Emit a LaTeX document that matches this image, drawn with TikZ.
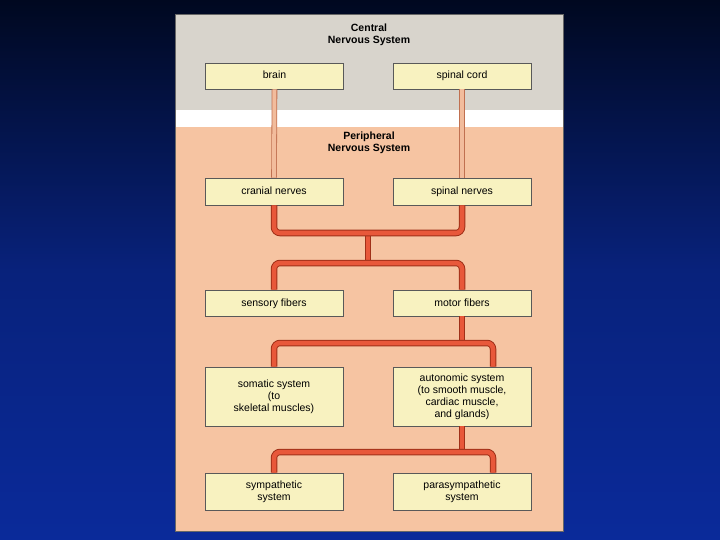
\documentclass[tikz,border=0pt]{standalone}
\usepackage{fontspec}
\setmainfont{Liberation Sans}
\begin{document}
\begin{tikzpicture}[x=1pt,y=-1pt,
  box/.style={draw=black!65,line width=0.8pt,fill=boxc,minimum width=138pt,align=center,inner sep=1pt,font=\fontsize{10.5}{12}\selectfont},
  nerve/.style={draw=nout,double=nin,double distance=4.5pt,line width=1pt,rounded corners=6pt},
  cns/.style={draw=cout,double=cin,double distance=4pt,line width=0.8pt},
  ttl/.style={font=\bfseries\fontsize{10.5}{11.5}\selectfont,align=center}]
\definecolor{boxc}{HTML}{F8F2C0}
\definecolor{nout}{HTML}{A03018}
\definecolor{nin}{HTML}{E8583A}
\definecolor{cout}{HTML}{C07050}
\definecolor{cin}{HTML}{F2BC9C}
\definecolor{bgtop}{HTML}{000820}
\definecolor{bgbot}{HTML}{0A2A9A}
\useasboundingbox (0,0) rectangle (720,540);
\shade[top color=bgtop,bottom color=bgbot,middle color=bgbot!80!black] (0,0) rectangle (720,540);
% panel
\fill[white] (175,15) rectangle (563,531);
\fill[fill={rgb,255:red,216;green,212;blue,204}] (175,15) rectangle (563,110);
\fill[fill={rgb,255:red,246;green,196;blue,162}] (175,127) rectangle (563,531);
\draw[black!60,line width=1pt] (175,15) rectangle (563,531);
\node[ttl] (cnsl) at (369,35) {Central\\Nervous System};
\node[ttl] (pnsl) at (369,143) {Peripheral\\Nervous System};
% boxes
\node[box,minimum height=26pt,text height=8pt,text depth=2pt] (brain) at (274.5,76) {brain};
\node[box,minimum height=26pt,text height=8pt,text depth=2pt] (cord) at (462,76) {spinal cord};
\node[box,minimum height=27pt,text height=8pt,text depth=2pt] (cran) at (274,191.5) {cranial nerves};
\node[box,minimum height=27pt,text height=8pt,text depth=2pt] (spn) at (462,191.5) {spinal nerves};
\node[box,minimum height=26pt,text height=8pt,text depth=2pt] (sens) at (274,303) {sensory fibers};
\node[box,minimum height=26pt,text height=8pt,text depth=2pt] (mot) at (462,303) {motor fibers};
\node[box,minimum height=59pt] (som) at (274,396.5) {somatic system\\(to\\skeletal muscles)};
\node[box,minimum height=59pt] (aut) at (462,396.5) {autonomic system\\(to smooth muscle,\\cardiac muscle,\\and glands)};
\node[box,minimum height=37pt] (sym) at (274,491.5) {sympathetic\\system};
\node[box,minimum height=37pt] (par) at (462,491.5) {parasympathetic\\system};
% connectors
\draw[cns] (brain.south) -- (cran.north);
\draw[cns] (cord.south) -- (spn.north);
\coordinate (j1) at (368,233);
\coordinate (j2) at (368,263);
\draw[nerve,rounded corners=4pt] (j1) -- (j2);
\draw[nerve] (cran.south) |- (j1) -| (spn.south);
\draw[nerve] (sens.north) |- (j2) -| (mot.north);
\coordinate (j3) at (462,343);
\draw[nerve] (mot.south) -- (j3);
\draw[nerve] (som.north) |- (j3) -| ([xshift=31pt]aut.north);
\coordinate (j4) at (462,452);
\draw[nerve] (aut.south) -- (j4);
\draw[nerve] (sym.north) |- (j4) -| ([xshift=31pt]par.north);
\end{tikzpicture}
\end{document}
